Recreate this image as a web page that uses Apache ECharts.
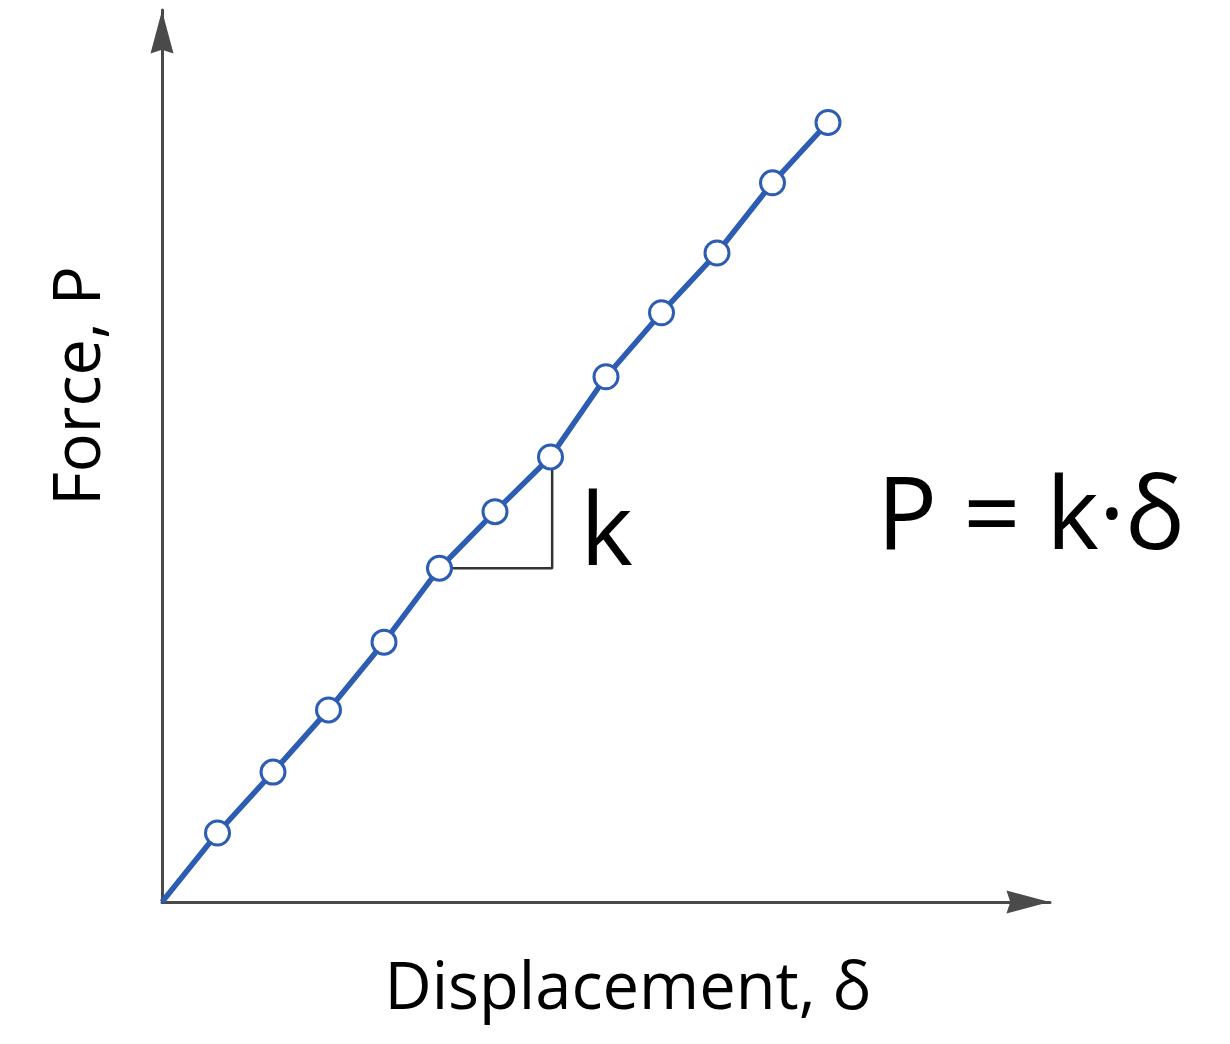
<!DOCTYPE html>
<html>
<head>
<meta charset="utf-8">
<title>Force vs Displacement</title>
<script src="https://cdn.jsdelivr.net/npm/echarts@6/dist/echarts.min.js"></script>
<style>
  html, body { margin: 0; padding: 0; background: #fff; }
  #chart { width: 1230px; height: 1044px; }
</style>
</head>
<body>
<div id="chart"></div>
<script>
// measured points (displacement step, force)
const displacement = [1, 2, 3, 4, 5, 6, 7, 8, 9, 10, 11, 12]
const force = [1.11, 2.09, 3.09, 4.18, 5.37, 6.28, 7.16, 8.45, 9.48, 10.44, 11.57, 12.54]

// slope triangle under the curve, between point 5 and point 7
const slopeX = [5, 7.03, 7.03]
const slopeY = [5.37, 5.37, 7.16]

const xMax = 16
const yMax = 14.35

const blue = '#2d5db2'
const axisColor = '#4a4a4a'
const font = 'Open Sans'

const chart = echarts.init(document.getElementById('chart'))

const lineData = [{ value: [0, 0], symbol: 'none' }]
displacement.forEach((d, i) => lineData.push([d, force[i]]))

const slopeData = slopeX.map((x, i) => [x, slopeY[i]])

// arrow head with a shallow notch, pointing up (echarts rotates it)
const arrowHead = 'path://M12,0 L24,45 L12,41 L0,45 Z'

const axisLine = {
  show: true,
  symbol: ['none', arrowHead],
  symbolSize: [23, 45],
  symbolOffset: [0, -22],
  lineStyle: { color: axisColor, width: 3 }
}

const option = {
  animation: false,
  title: {
    text: 'P = k·δ',
    left: 872,
    top: 466,
    textStyle: { fontFamily: font, fontSize: 100, fontWeight: 'normal', color: '#000' }
  },
  grid: { left: 162, right: 1230 - 1050, top: 10, bottom: 1044 - 902 },
  xAxis: {
    type: 'value',
    min: 0,
    max: xMax,
    name: 'Displacement, δ',
    nameLocation: 'middle',
    nameGap: 56,
    nameTextStyle: { fontFamily: font, fontSize: 65, color: '#000', padding: [0, 0, 0, 44] },
    axisLine: axisLine,
    axisTick: { show: false },
    axisLabel: { show: false },
    splitLine: { show: false }
  },
  yAxis: {
    type: 'value',
    min: 0,
    max: yMax,
    name: 'Force, P',
    nameLocation: 'middle',
    nameGap: 48,
    nameTextStyle: { fontFamily: font, fontSize: 65, color: '#000', padding: [0, 0, 0, 140] },
    axisLine: axisLine,
    axisTick: { show: false },
    axisLabel: { show: false },
    splitLine: { show: false }
  },
  series: [
    {
      type: 'line',
      data: slopeData,
      z: 1,
      symbol: 'none',
      lineStyle: { color: '#333', width: 2.5 },
      markPoint: {
        symbol: 'circle',
        symbolSize: 0,
        data: [{ coord: slopeData[1], value: 'k' }],
        label: {
          show: true,
          formatter: 'k',
          position: 'inside',
          align: 'left',
          verticalAlign: 'bottom',
          offset: [28, 18],
          fontFamily: font,
          fontSize: 100,
          color: '#000'
        }
      }
    },
    {
      type: 'line',
      data: lineData,
      z: 3,
      symbol: 'circle',
      symbolSize: 24,
      showSymbol: true,
      lineStyle: { color: blue, width: 5.5 },
      itemStyle: { color: '#fff', borderColor: blue, borderWidth: 3 }
    }
  ]
}

chart.setOption(option)
</script>
</body>
</html>
